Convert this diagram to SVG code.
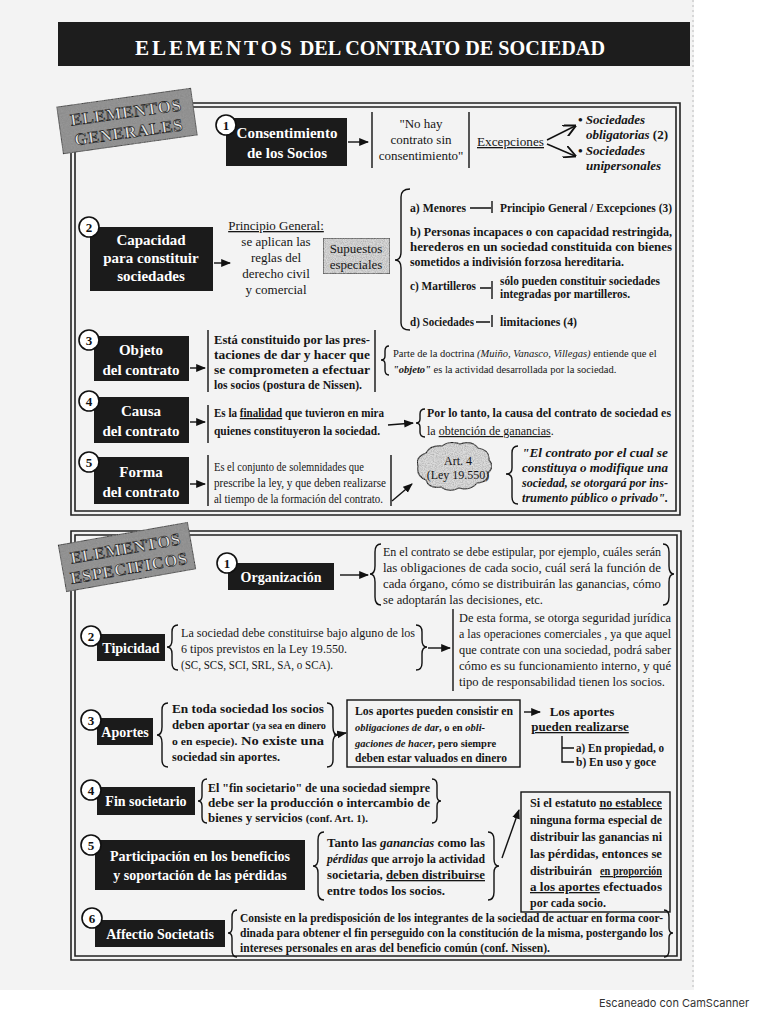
<svg xmlns="http://www.w3.org/2000/svg" width="768" height="1024" viewBox="0 0 768 1024">
<defs>
<marker id="ah" viewBox="0 0 10 10" refX="9" refY="5" markerWidth="7" markerHeight="7" orient="auto-start-reverse"><path d="M0,1 L10,5 L0,9 z" fill="#111"/></marker>
<marker id="oh" viewBox="0 0 10 10" refX="9" refY="5" markerWidth="9" markerHeight="9" orient="auto"><path d="M0,0 L10,5 L0,10" fill="none" stroke="#111" stroke-width="1.5"/></marker>
<filter id="grain" x="0" y="0" width="1" height="1"><feTurbulence type="fractalNoise" baseFrequency="0.9" numOctaves="2" seed="3"/><feColorMatrix type="matrix" values="0 0 0 0 0.35  0 0 0 0 0.35  0 0 0 0 0.35  0 0 0 1.4 -0.45"/><feComposite in2="SourceGraphic" operator="in"/><feMerge><feMergeNode in="SourceGraphic"/><feMergeNode/></feMerge></filter>
</defs>
<style>
.t{font-family:"Liberation Serif",serif;font-size:13px;fill:#161616;font-weight:bold}
.n{font-weight:normal}
.s12{font-size:12px}
.s11{font-size:11px}
.s10{font-size:10.5px}
.ti{font-style:italic}
.lb{font-family:"Liberation Serif",serif;font-size:15px;font-weight:bold;fill:#fff;text-anchor:middle}
.lb14{font-size:14px}
.box{fill:#1b1b1b}
.ln{stroke:#111;stroke-width:1.4;fill:none}
.fr{stroke:#222;stroke-width:1.6;fill:none}
.ci{fill:#fff;stroke:#111;stroke-width:1.6}
.cn{font-family:"Liberation Serif",serif;font-size:13px;font-weight:bold;fill:#111;text-anchor:middle}
.st{font-family:"Liberation Serif",serif;font-size:17px;font-weight:bold;fill:#e6e6e6;stroke:#222;stroke-width:0.7;text-anchor:middle;letter-spacing:0.5px}
.stamp{fill:#8c8c8c;stroke:#222;stroke-width:1.5}
.c{text-anchor:middle}
.u{text-decoration:underline}
</style>
<rect x="0" y="0" width="768" height="1024" fill="#ffffff"/>
<rect x="0" y="0" width="694" height="990" fill="#f3f3f3"/>
<line x1="693" y1="0" x2="693" y2="990" stroke="#bbb" stroke-width="1" stroke-dasharray="2,3"/>

<!-- Title -->
<g id="title">
<rect x="58" y="22" width="632" height="44" fill="#1d1d1d"/>
<text x="370" y="55" font-family="Liberation Serif,serif" font-size="21" font-weight="bold" fill="#fff" text-anchor="middle" textLength="470" lengthAdjust="spacingAndGlyphs"><tspan letter-spacing="3px" font-size="22">ELEMENTOS</tspan> DEL CONTRATO DE SOCIEDAD</text>
</g>

<!-- Section frames -->
<g id="frames">
<path class="fr" d="M190,103 H680 V515 H71 V148"/>
<path class="fr" d="M190,107 H676 V511 H75 V148"/>
<path class="fr" d="M71,531 H681 V960 H71 Z"/>
<path class="fr" d="M75,535 H677 V956 H75 Z"/>
</g>

<!-- Stamps -->
<g id="stamp-generales" transform="translate(127,121) rotate(-8)">
<rect class="stamp" x="-68" y="-24" width="136" height="48" filter="url(#grain)"/>
<text class="st" x="0" y="-3">ELEMENTOS</text>
<text class="st" x="0" y="17">GENERALES</text>
</g>
<g id="stamp-especificos" transform="translate(127,557) rotate(-10)">
<rect class="stamp" x="-66" y="-24" width="132" height="48" filter="url(#grain)"/>
<text class="st" x="0" y="-3">ELEMENTOS</text>
<text class="st" x="0" y="17">ESPECIFICOS</text>
</g>

<!-- ===== GENERALES ===== -->
<g id="n-consentimiento">
<rect class="box" x="226" y="118" width="121" height="48"/>
<text class="lb" x="287" y="138">Consentimiento</text>
<text class="lb" x="287" y="158">de los Socios</text>
<circle class="ci" cx="226" cy="125" r="10"/><text class="cn" x="226" y="130">1</text>
</g>
<g id="t-nohay">
<line class="ln" x1="372" y1="112" x2="372" y2="168"/>
<text class="t n c" x="421" y="128">"No hay</text>
<text class="t n c" x="421" y="144">contrato sin</text>
<text class="t n c" x="421" y="160">consentimiento"</text>
<line class="ln" x1="469" y1="112" x2="469" y2="168"/>
<text class="t n u" x="477" y="146" textLength="67" lengthAdjust="spacingAndGlyphs">Excepciones</text>
<text class="t ti" x="578" y="124">• Sociedades</text>
<text class="t ti" x="586" y="139">obligatorias <tspan font-style="normal">(2)</tspan></text>
<text class="t ti" x="578" y="155">• Sociedades</text>
<text class="t ti" x="586" y="170">unipersonales</text>
</g>

<g id="n-capacidad">
<rect class="box" x="90" y="227" width="123" height="64"/>
<text class="lb" x="151" y="245">Capacidad</text>
<text class="lb" x="151" y="263">para constituir</text>
<text class="lb" x="151" y="281">sociedades</text>
<circle class="ci" cx="89" cy="227" r="10"/><text class="cn" x="89" y="232">2</text>
</g>
<g id="t-principio">
<text class="t n c u" x="276" y="230">Principio General:</text>
<text class="t n c" x="276" y="246">se aplican las</text>
<text class="t n c" x="276" y="262">reglas del</text>
<text class="t n c" x="276" y="278">derecho civil</text>
<text class="t n c" x="276" y="294">y comercial</text>
</g>
<g id="stamp-supuestos">
<rect x="323" y="238" width="67" height="36" fill="#d8d8d8" stroke="#222" stroke-width="1.2" filter="url(#grain)"/>
<text class="t n c" x="356" y="253">Supuestos</text>
<text class="t n c" x="356" y="269">especiales</text>
</g>
<g id="t-supuestos">
<text class="t" x="410" y="212" textLength="56" lengthAdjust="spacingAndGlyphs">a) Menores</text>
<text class="t" x="500" y="212" textLength="172" lengthAdjust="spacingAndGlyphs">Principio General / Excepciones (3)</text>
<text class="t" x="410" y="236" textLength="262" lengthAdjust="spacingAndGlyphs">b) Personas incapaces o con capacidad restringida,</text>
<text class="t" x="410" y="251" textLength="262" lengthAdjust="spacingAndGlyphs">herederos en un sociedad constituida con bienes</text>
<text class="t" x="410" y="266" textLength="214" lengthAdjust="spacingAndGlyphs">sometidos a indivisión forzosa hereditaria.</text>
<text class="t" x="410" y="290" textLength="66" lengthAdjust="spacingAndGlyphs">c) Martilleros</text>
<text class="t s12" x="500" y="285" textLength="160" lengthAdjust="spacingAndGlyphs">sólo pueden constituir sociedades</text>
<text class="t s12" x="500" y="298" textLength="130" lengthAdjust="spacingAndGlyphs">integradas por martilleros.</text>
<text class="t" x="410" y="326" textLength="64" lengthAdjust="spacingAndGlyphs">d) Sociedades</text>
<text class="t" x="500" y="326" textLength="77" lengthAdjust="spacingAndGlyphs">limitaciones (4)</text>
</g>

<g id="n-objeto">
<rect class="box" x="94" y="336" width="95" height="45"/>
<text class="lb" x="141" y="355">Objeto</text>
<text class="lb" x="141" y="375">del contrato</text>
<circle class="ci" cx="89" cy="340" r="10"/><text class="cn" x="89" y="345">3</text>
</g>
<g id="t-objeto">
<line class="ln" x1="208" y1="330" x2="208" y2="392"/>
<text class="t" x="214" y="344" textLength="156" lengthAdjust="spacingAndGlyphs">Está constituido por las pres-</text>
<text class="t" x="214" y="359" textLength="156" lengthAdjust="spacingAndGlyphs">taciones de dar y hacer que</text>
<text class="t" x="214" y="374" textLength="156" lengthAdjust="spacingAndGlyphs">se comprometen a efectuar</text>
<text class="t" x="214" y="389" textLength="148" lengthAdjust="spacingAndGlyphs">los socios (postura de Nissen).</text>
<line class="ln" x1="375" y1="330" x2="375" y2="392"/>
<text class="t n s10" x="393" y="357">Parte de la doctrina <tspan font-style="italic">(Muiño, Vanasco, Villegas)</tspan> entiende que el</text>
<text class="t n s10" x="393" y="373"><tspan font-style="italic" font-weight="bold">"objeto"</tspan> es la actividad desarrollada por la sociedad.</text>
</g>

<g id="n-causa">
<rect class="box" x="94" y="397" width="95" height="46"/>
<text class="lb" x="141" y="416">Causa</text>
<text class="lb" x="141" y="436">del contrato</text>
<circle class="ci" cx="89" cy="401" r="10"/><text class="cn" x="89" y="406">4</text>
</g>
<g id="t-causa">
<line class="ln" x1="208" y1="405" x2="208" y2="443"/>
<text class="t s12" x="214" y="417" textLength="170" lengthAdjust="spacingAndGlyphs">Es la <tspan text-decoration="underline">finalidad</tspan> que tuvieron en mira</text>
<text class="t s12" x="214" y="435" textLength="166" lengthAdjust="spacingAndGlyphs">quienes constituyeron la sociedad.</text>
<text class="t s12" x="427" y="417" textLength="244" lengthAdjust="spacingAndGlyphs">Por lo tanto, la causa del contrato de sociedad es</text>
<text class="t n s12" x="427" y="435">la <tspan text-decoration="underline">obtención de ganancias</tspan>.</text>
</g>

<g id="n-forma">
<rect class="box" x="94" y="457" width="95" height="47"/>
<text class="lb" x="141" y="477">Forma</text>
<text class="lb" x="141" y="497">del contrato</text>
<circle class="ci" cx="89" cy="462" r="10"/><text class="cn" x="89" y="467">5</text>
</g>
<g id="t-forma">
<line class="ln" x1="208" y1="455" x2="208" y2="506"/>
<text class="t n" x="214" y="471" textLength="150" lengthAdjust="spacingAndGlyphs">Es el conjunto de solemnidades que</text>
<text class="t n" x="214" y="487" textLength="172" lengthAdjust="spacingAndGlyphs">prescribe la ley, y que deben realizarse</text>
<text class="t n" x="214" y="503" textLength="169" lengthAdjust="spacingAndGlyphs">al tiempo de la formación del contrato.</text>
<line class="ln" x1="391" y1="455" x2="391" y2="506"/>
</g>
<g id="cloud-art4">
<path d="M418,466 q-3,-9 8,-13 q4,-8 16,-7 q8,-6 18,-2 q12,-4 18,4 q12,2 11,12 q6,7 -1,13 q1,9 -11,10 q-6,8 -18,5 q-10,5 -18,-1 q-12,2 -15,-7 q-10,-4 -8,-14 z" fill="#dcdcdc" stroke="#222" stroke-width="1.2" filter="url(#grain)"/>
<text class="t n s12 c" x="458" y="465">Art. 4</text>
<text class="t n s12 c" x="458" y="479">(Ley 19.550)</text>
</g>
<g id="t-quote">
<text class="t ti" x="522" y="457" textLength="146" lengthAdjust="spacingAndGlyphs">"El contrato por el cual se</text>
<text class="t ti" x="522" y="472" textLength="146" lengthAdjust="spacingAndGlyphs">constituya o modifique una</text>
<text class="t ti" x="522" y="487" textLength="146" lengthAdjust="spacingAndGlyphs">sociedad, se otorgará por ins-</text>
<text class="t ti" x="522" y="502" textLength="146" lengthAdjust="spacingAndGlyphs">trumento público o privado".</text>
</g>

<!-- ===== ESPECIFICOS ===== -->
<g id="n-organizacion">
<rect class="box" x="228" y="563" width="106" height="27"/>
<text class="lb lb14" x="281" y="582">Organización</text>
<circle class="ci" cx="227" cy="563" r="10"/><text class="cn" x="227" y="568">1</text>
</g>
<g id="t-organizacion">
<text class="t n" x="383" y="556" textLength="278" lengthAdjust="spacingAndGlyphs">En el contrato se debe estipular, por ejemplo, cuáles serán</text>
<text class="t n" x="383" y="572" textLength="278" lengthAdjust="spacingAndGlyphs">las obligaciones de cada socio, cuál será la función de</text>
<text class="t n" x="383" y="588" textLength="278" lengthAdjust="spacingAndGlyphs">cada órgano, cómo se distribuirán las ganancias, cómo</text>
<text class="t n" x="383" y="604" textLength="160" lengthAdjust="spacingAndGlyphs">se adoptarán las decisiones, etc.</text>
</g>

<g id="n-tipicidad">
<rect class="box" x="97" y="634" width="68" height="27"/>
<text class="lb lb14" x="131" y="653">Tipicidad</text>
<circle class="ci" cx="91" cy="636" r="10"/><text class="cn" x="91" y="641">2</text>
</g>
<g id="t-tipicidad">
<text class="t n" x="181" y="637" textLength="234" lengthAdjust="spacingAndGlyphs">La sociedad debe constituirse bajo alguno de los</text>
<text class="t n" x="181" y="653" textLength="166" lengthAdjust="spacingAndGlyphs">6 tipos previstos en la Ley 19.550.</text>
<text class="t n" x="181" y="669" textLength="152" lengthAdjust="spacingAndGlyphs">(SC, SCS, SCI, SRL, SA, o SCA).</text>
<line class="ln" x1="453" y1="609" x2="453" y2="691"/>
<text class="t n" x="459" y="622" textLength="212" lengthAdjust="spacingAndGlyphs">De esta forma, se otorga seguridad jurídica</text>
<text class="t n" x="459" y="638" textLength="212" lengthAdjust="spacingAndGlyphs">a las operaciones comerciales , ya que aquel</text>
<text class="t n" x="459" y="654" textLength="212" lengthAdjust="spacingAndGlyphs">que contrate con una sociedad, podrá saber</text>
<text class="t n" x="459" y="670" textLength="212" lengthAdjust="spacingAndGlyphs">cómo es su funcionamiento interno, y qué</text>
<text class="t n" x="459" y="686" textLength="206" lengthAdjust="spacingAndGlyphs">tipo de responsabilidad tienen los socios.</text>
</g>

<g id="n-aportes">
<rect class="box" x="97" y="718" width="56" height="27"/>
<text class="lb lb14" x="125" y="737">Aportes</text>
<circle class="ci" cx="91" cy="720" r="10"/><text class="cn" x="91" y="725">3</text>
</g>
<g id="t-aportes">
<text class="t" x="172" y="713" textLength="152" lengthAdjust="spacingAndGlyphs">En toda sociedad los socios</text>
<text class="t" x="172" y="729" textLength="154" lengthAdjust="spacingAndGlyphs">deben aportar <tspan class="s10">(ya sea en dinero</tspan></text>
<text class="t" x="172" y="745" textLength="152" lengthAdjust="spacingAndGlyphs"><tspan class="s10">o en especie).</tspan> No existe una</text>
<text class="t" x="172" y="761" textLength="108" lengthAdjust="spacingAndGlyphs">sociedad sin aportes.</text>
<rect x="347" y="700" width="173" height="67" fill="none" stroke="#111" stroke-width="1.4"/>
<text class="t" x="355" y="715" textLength="158" lengthAdjust="spacingAndGlyphs">Los aportes pueden consistir en</text>
<text class="t s10" x="355" y="731"><tspan font-style="italic">obligaciones de dar</tspan>, o en <tspan font-style="italic">obli-</tspan></text>
<text class="t s10" x="355" y="747"><tspan font-style="italic">gaciones de hacer</tspan>, pero siempre</text>
<text class="t" x="355" y="762" textLength="152" lengthAdjust="spacingAndGlyphs">deben estar valuados en dinero</text>
<text class="t c" x="582" y="716">Los aportes</text>
<text class="t c u" x="580" y="731">pueden realizarse</text>
<path class="ln" d="M562,736 V762 H574 M562,748 H574"/>
<text class="t s12" x="576" y="752" textLength="88" lengthAdjust="spacingAndGlyphs">a) En propiedad, o</text>
<text class="t s12" x="576" y="766" textLength="80" lengthAdjust="spacingAndGlyphs">b) En uso y goce</text>
</g>

<g id="n-fin">
<rect class="box" x="97" y="787" width="98" height="28"/>
<text class="lb lb14" x="146" y="806">Fin societario</text>
<circle class="ci" cx="91" cy="790" r="10"/><text class="cn" x="91" y="795">4</text>
</g>
<g id="t-fin">
<text class="t" x="208" y="792" textLength="222" lengthAdjust="spacingAndGlyphs">El "fin societario" de una sociedad siempre</text>
<text class="t" x="208" y="807" textLength="222" lengthAdjust="spacingAndGlyphs">debe ser la producción o intercambio de</text>
<text class="t" x="208" y="822" textLength="160" lengthAdjust="spacingAndGlyphs">bienes y servicios <tspan class="s11">(conf. Art. 1).</tspan></text>
</g>

<g id="box-estatuto">
<rect x="521" y="792" width="149" height="120" fill="none" stroke="#111" stroke-width="1.4"/>
<text class="t" x="530" y="807" textLength="132" lengthAdjust="spacingAndGlyphs">Si el estatuto <tspan text-decoration="underline">no establece</tspan></text>
<text class="t" x="530" y="824" textLength="132" lengthAdjust="spacingAndGlyphs">ninguna forma especial de</text>
<text class="t" x="530" y="841" textLength="132" lengthAdjust="spacingAndGlyphs">distribuir las ganancias ni</text>
<text class="t" x="530" y="858" textLength="132" lengthAdjust="spacingAndGlyphs">las pérdidas, entonces se</text>
<text class="t" x="530" y="875" textLength="62" lengthAdjust="spacingAndGlyphs">distribuirán</text>
<text class="t u" x="600" y="875" textLength="62" lengthAdjust="spacingAndGlyphs">en proporción</text>
<text class="t" x="530" y="891" textLength="132" lengthAdjust="spacingAndGlyphs"><tspan text-decoration="underline">a los aportes</tspan> efectuados</text>
<text class="t" x="530" y="907" textLength="76" lengthAdjust="spacingAndGlyphs">por cada socio.</text>
</g>

<g id="n-participacion">
<rect class="box" x="95" y="840" width="210" height="50"/>
<text class="lb lb14" x="200" y="861">Participación en los beneficios</text>
<text class="lb lb14" x="200" y="880">y soportación de las pérdidas</text>
<circle class="ci" cx="91" cy="845" r="10"/><text class="cn" x="91" y="850">5</text>
</g>
<g id="t-participacion">
<text class="t" x="327" y="847" textLength="158" lengthAdjust="spacingAndGlyphs">Tanto las <tspan font-style="italic">ganancias</tspan> como las</text>
<text class="t" x="327" y="863" textLength="158" lengthAdjust="spacingAndGlyphs"><tspan font-style="italic">pérdidas</tspan> que arrojo la actividad</text>
<text class="t" x="327" y="879" textLength="158" lengthAdjust="spacingAndGlyphs">societaria, <tspan text-decoration="underline">deben distribuirse</tspan></text>
<text class="t" x="327" y="895" textLength="118" lengthAdjust="spacingAndGlyphs">entre todos los socios.</text>
</g>

<g id="n-affectio">
<rect class="box" x="95" y="920" width="130" height="27"/>
<text class="lb lb14" x="160" y="939">Affectio Societatis</text>
<circle class="ci" cx="92" cy="918" r="10"/><text class="cn" x="92" y="923">6</text>
</g>
<g id="t-affectio">
<text class="t s12" x="240" y="922" textLength="423" lengthAdjust="spacingAndGlyphs">Consiste en la predisposición de los integrantes de la sociedad de actuar en forma coor-</text>
<text class="t s12" x="240" y="937" textLength="423" lengthAdjust="spacingAndGlyphs">dinada para obtener el fin perseguido con la constitución de la misma, postergando los</text>
<text class="t s12" x="240" y="952" textLength="310" lengthAdjust="spacingAndGlyphs">intereses personales en aras del beneficio común (conf. Nissen).</text>
</g>

<!-- Connectors, braces, ties -->
<g id="connectors" class="ln">
<line x1="348" y1="142" x2="368" y2="142" marker-end="url(#ah)"/>
<line x1="547" y1="140" x2="575" y2="126" marker-end="url(#oh)"/>
<line x1="547" y1="144" x2="575" y2="156" marker-end="url(#oh)"/>
<line x1="214" y1="263" x2="230" y2="263" marker-end="url(#ah)"/>
<path d="M410,189 Q401,189 401,197 V252 Q401,260 395,260 Q401,260 401,268 V323 Q401,330 410,330"/>
<path d="M470,208 H491 M492,201 V213"/>
<path d="M480,288 H491 M492,281 V299"/>
<path d="M476,322 H490 M492,315 V327"/>
<line x1="190" y1="368" x2="205" y2="368" marker-end="url(#ah)"/>
<path d="M389,346 Q385,346 385,351 V356 Q385,360 381,360 Q385,360 385,364 V370 Q385,375 389,375"/>
<line x1="190" y1="422" x2="205" y2="422" marker-end="url(#ah)"/>
<line x1="388" y1="425" x2="413" y2="423" marker-end="url(#ah)"/>
<path d="M425,409 Q420,409 420,414 V419 Q420,423 416,423 Q420,423 420,427 V432 Q420,437 425,437"/>
<line x1="190" y1="484" x2="205" y2="484" marker-end="url(#ah)"/>
<path d="M392,501 L412,484" marker-end="url(#ah)"/>
<path d="M518,446 Q512,446 512,453 V468 Q512,474 506,474 Q512,474 512,480 V497 Q512,504 518,504"/>
<!-- especificos -->
<line x1="340" y1="575" x2="368" y2="575" marker-end="url(#ah)"/>
<path d="M381,544 Q375,544 375,552 V566 Q375,574 370,574 Q375,574 375,582 V597 Q375,605 381,605"/>
<path d="M663,544 Q669,544 669,552 V566 Q669,574 674,574 Q669,574 669,582 V597 Q669,605 663,605"/>
<path d="M178,625 Q172,625 172,632 V640 Q172,647 167,647 Q172,647 172,654 V663 Q172,670 178,670"/>
<path d="M416,625 Q422,625 422,632 V640 Q422,647 427,647 Q422,647 422,654 V663 Q422,670 416,670"/>
<line x1="428" y1="648" x2="450" y2="648" marker-end="url(#ah)"/>
<path d="M168,703 Q162,703 162,710 V727 Q162,735 157,735 Q162,735 162,743 V760 Q162,767 168,767"/>
<path d="M327,703 Q333,703 333,710 V727 Q333,735 338,735 Q333,735 333,743 V760 Q333,767 327,767"/>
<line x1="334" y1="735" x2="346" y2="733" marker-end="url(#ah)"/>
<line x1="524" y1="712" x2="540" y2="712" marker-end="url(#ah)"/>
<path d="M207,779 Q202,779 202,785 V796 Q202,801 198,801 Q202,801 202,806 V817 Q202,823 207,823"/>
<path d="M432,779 Q437,779 437,785 V796 Q437,801 441,801 Q437,801 437,806 V817 Q437,823 432,823"/>
<path d="M324,832 Q318,832 318,840 V859 Q318,866 313,866 Q318,866 318,873 V892 Q318,900 324,900"/>
<path d="M488,832 Q494,832 494,840 V859 Q494,866 499,866 Q494,866 494,873 V892 Q494,900 488,900"/>
<line x1="502" y1="858" x2="519" y2="810" marker-end="url(#ah)"/>
<path d="M237,910 Q232,910 232,917 V928 Q232,933 228,933 Q232,933 232,938 V950 Q232,957 237,957"/>
<path d="M664,910 Q669,910 669,917 V928 Q669,933 673,933 Q669,933 669,938 V950 Q669,957 664,957"/>
</g>

<text x="674" y="1007" font-family="Inter,'Noto Sans',sans-serif" font-size="11" fill="#333" text-anchor="middle">Escaneado con CamScanner</text>
</svg>
